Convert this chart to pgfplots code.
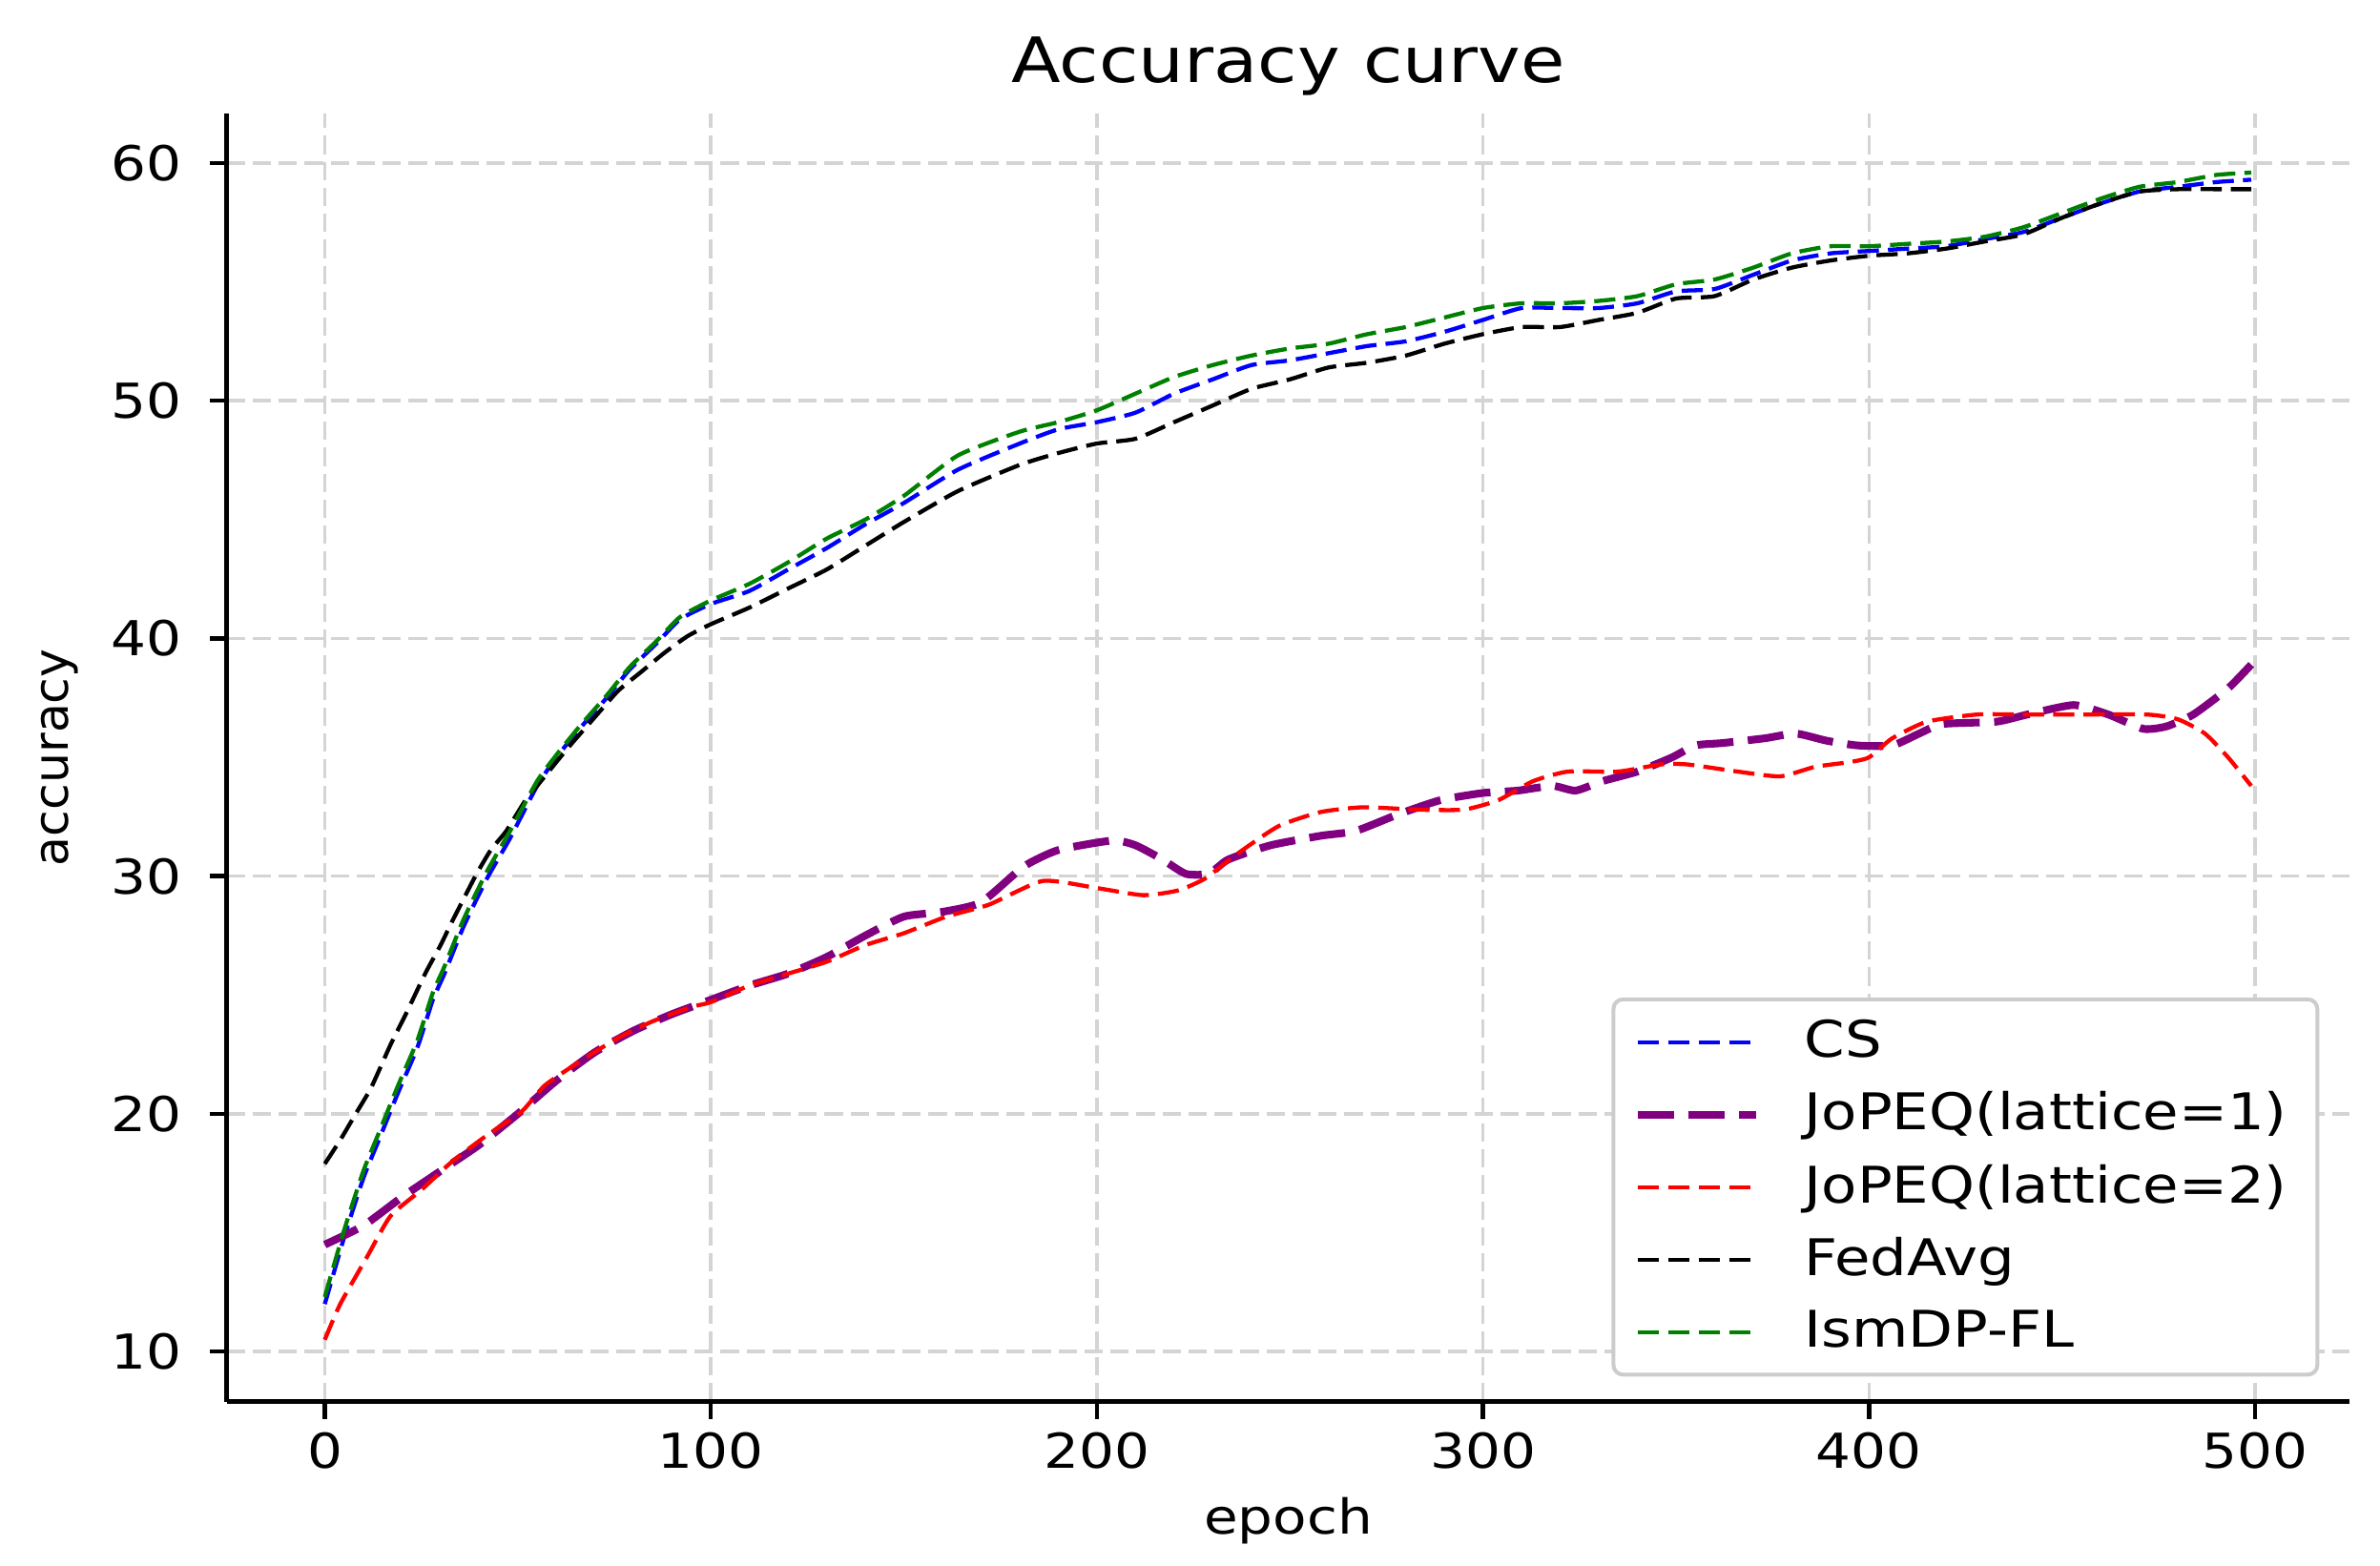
\documentclass[border=0pt]{standalone}
\usepackage{pgfplots}
\pgfplotsset{compat=1.18}
\usepackage{fontspec}
\setmainfont[FakeStretch=1.15]{DejaVu Sans}
\newfontfamily\plainfont{DejaVu Sans}
\definecolor{mplgreen}{RGB}{0,128,0}
\definecolor{mplpurple}{RGB}{128,0,128}
\begin{document}
\begin{tikzpicture}
\begin{axis}[
  scale only axis,
  width=441pt, height=267.6pt,
  xmin=-25.4, xmax=524.5, ymin=7.9, ymax=62.08,
  xtick={0,100,200,300,400,500}, ytick={10,20,30,40,50,60},
  axis x line*=bottom, axis y line*=left,
  axis line style={line width=0.9pt, black},
  tick align=outside,
  major tick length=3.6pt,
  every tick/.style={line width=0.9pt, black},
  grid=major,
  major grid style={line width=0.7pt, color=black!17, dash pattern=on 3.8pt off 1.6pt},
  /pgf/number format/assume math mode=true,
  ticklabel style={font=\fontsize{10}{12}\selectfont},
  xticklabel style={anchor=base, inner sep=0pt, yshift=-10.2pt},
  yticklabel style={anchor=east, inner sep=0pt, xshift=-5.6pt},
  every axis title shift=0pt,
  title={Accuracy curve},
  title style={font=\fontsize{13}{15}\selectfont, at={(axis description cs:0.5,1.0243)}, anchor=base},
  xlabel={epoch},
  xlabel style={font=\fontsize{10}{12}\selectfont, at={(axis description cs:0.5,-0.103)}, anchor=base},
  ylabel={accuracy},
  ylabel style={font=\plainfont\fontsize{10}{12}\selectfont, at={(axis description cs:-0.0748,0.5)}, anchor=base},
  legend cell align=left,
  legend image code/.code={\draw[#1] (0pt,0pt) -- (24.5pt,0pt);},
  legend style={at={(axis description cs:0.9857,0.0194)}, anchor=south east,
    draw=black!20, line width=0.8pt, rounded corners=2pt, fill=white,
    font=\fontsize{10.5}{12}\selectfont, inner xsep=4.3pt, inner ysep=2.25pt, row sep=1.65pt,
    /tikz/every odd column/.append style={column sep=7.3pt}},
]
\coordinate (BL) at (rel axis cs:0,0);
\coordinate (TR) at (rel axis cs:1,1);

\addplot[blue, line width=0.85pt, dash pattern=on 4.4pt off 1.9pt, smooth, tension=0.35] coordinates {
(0,12.0) (5,14.8) (10,17.3) (14,18.9) (19,20.9) (24,22.8) (28,24.8) (31,25.9) (36,27.9) (42,29.9)
(48,31.6) (55,33.8) (60,35.0) (66,36.2) (73,37.5) (79,38.7) (86,39.8) (92,40.8) (100,41.45) (110,42.0) (120,42.9)
(130,43.8) (140,44.8) (150,45.7) (164,47.1) (180,48.2) (190,48.8) (200,49.1) (210,49.5) (220,50.3) (230,50.9)
(240,51.5) (250,51.7) (260,52.0) (270,52.3) (280,52.5) (290,52.9) (300,53.4) (310,53.9) (320,53.9) (330,53.9)
(340,54.1) (350,54.6) (360,54.7) (370,55.3) (380,55.9) (390,56.2) (400,56.3) (410,56.4) (420,56.5) (430,56.8)
(440,57.1) (450,57.7) (460,58.3) (470,58.8) (480,59.0) (490,59.2) (499,59.3)};
\addlegendentry{CS}

\addplot[mplpurple, line width=1.6pt, dash pattern=on 7.5pt off 3pt, smooth, tension=0.35] coordinates {
(0,14.5) (10,15.3) (20,16.5) (30,17.6) (40,18.7) (50,20.0) (60,21.4) (70,22.6) (80,23.5) (90,24.2)
(100,24.8) (110,25.4) (120,25.9) (130,26.6) (140,27.5) (150,28.3) (160,28.5) (170,28.9) (181,30.4) (190,31.1)
(204,31.5) (210,31.3) (217,30.7) (223,30.1) (229,30.1) (234,30.7) (245,31.3) (258,31.7) (267,31.9) (278,32.6)
(289,33.2) (300,33.5) (309,33.6) (318,33.8) (324,33.6) (331,34.0) (340,34.4) (349,35.0) (355,35.5) (362,35.6)
(373,35.8) (381,36.0) (389,35.7) (397,35.5) (406,35.5) (413,36.0) (419,36.4) (433,36.5) (441,36.8) (453,37.2)
(462,36.8) (471,36.2) (477,36.3) (484,36.8) (493,37.9) (499,38.9)};
\addlegendentry{JoPEQ(lattice=1)}

\addplot[red, line width=0.85pt, dash pattern=on 4.4pt off 1.9pt, smooth, tension=0.35] coordinates {
(0,10.5) (4,12.0) (11,14.0) (17,15.7) (25,16.8) (33,18.0) (42,19.1) (51,20.1) (57,21.2) (66,22.2)
(76,23.2) (85,23.9) (95,24.5) (100,24.7) (110,25.4) (120,25.9) (130,26.4) (140,27.1) (150,27.6) (161,28.3)
(172,28.8) (186,29.8) (200,29.5) (212,29.2) (221,29.4) (228,29.9) (236,30.9) (247,32.1) (258,32.7) (269,32.9)
(283,32.8) (295,32.8) (304,33.2) (313,34.0) (322,34.4) (335,34.4) (346,34.7) (353,34.7) (366,34.4) (377,34.2)
(386,34.6) (395,34.8) (400,35.0) (406,35.8) (415,36.5) (428,36.8) (441,36.8) (454,36.8) (472,36.8) (480,36.6)
(487,36.0) (493,35.0) (499,33.8)};
\addlegendentry{JoPEQ(lattice=2)}

\addplot[black, line width=0.85pt, dash pattern=on 4.4pt off 1.9pt, smooth, tension=0.35] coordinates {
(0,17.9) (4,18.9) (8,20.0) (12,21.1) (17,22.9) (21,24.2) (26,25.9) (30,27.1) (33,28.1) (39,30.0)
(43,31.1) (47,31.9) (52,33.2) (56,34.0) (63,35.4)
(70,36.7) (76,37.8) (82,38.6) (88,39.4) (94,40.1) (100,40.6) (110,41.3) (120,42.1) (130,42.9) (140,43.9)
(150,44.9) (164,46.2) (180,47.3) (190,47.8) (200,48.2) (210,48.4) (220,49.1) (230,49.8) (240,50.5) (250,50.9)
(260,51.4) (270,51.6) (280,51.9) (290,52.4) (300,52.8) (310,53.1) (320,53.1) (330,53.4) (340,53.7) (350,54.3)
(360,54.4) (370,55.1) (380,55.6) (390,55.9) (400,56.1) (410,56.2) (420,56.4) (430,56.7) (440,57.0) (450,57.7)
(460,58.3) (470,58.8) (480,58.9) (490,58.9) (499,58.9)};
\addlegendentry{FedAvg}

\addplot[mplgreen, line width=0.85pt, dash pattern=on 4.4pt off 1.9pt, smooth, tension=0.35] coordinates {
(0,12.3) (5,15.1) (10,17.6) (14,19.2) (19,21.2) (24,23.1) (28,25.1) (31,26.2) (36,28.2) (42,30.2)
(48,31.9) (55,34.0) (60,35.1) (66,36.3) (73,37.6) (79,38.8) (86,39.9) (92,40.9) (100,41.6) (110,42.3) (120,43.2)
(130,44.2) (140,45.0) (150,46.0) (164,47.7) (180,48.7) (190,49.1) (200,49.6) (210,50.3) (220,51.0) (230,51.5)
(240,51.9) (250,52.2) (260,52.4) (270,52.8) (280,53.1) (290,53.5) (300,53.9) (310,54.1) (320,54.1) (330,54.2)
(340,54.4) (350,54.9) (360,55.1) (370,55.6) (380,56.2) (390,56.5) (400,56.5) (410,56.6) (420,56.7) (430,56.9)
(440,57.3) (450,57.9) (460,58.5) (470,59.0) (480,59.2) (490,59.5) (499,59.6)};
\addlegendentry{IsmDP-FL}
\end{axis}
\pgfresetboundingbox
\path[use as bounding box] ([shift={(-47.1pt,-34.05pt)}]BL) rectangle ([shift={(6.3pt,23.6pt)}]TR);
\end{tikzpicture}
\end{document}
